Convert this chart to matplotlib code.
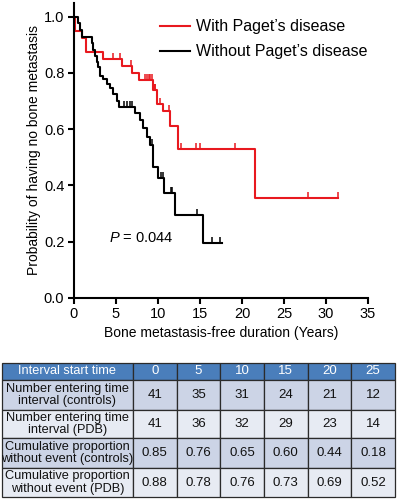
import numpy as np
import matplotlib
matplotlib.use('Agg')
import matplotlib.pyplot as plt
from matplotlib.path import Path

plt.rcParams['font.family'] = ['Liberation Sans', 'DejaVu Sans']
plt.rcParams['mathtext.fontset'] = 'custom'
plt.rcParams['mathtext.it'] = 'Liberation Sans:italic'
plt.rcParams['mathtext.rm'] = 'Liberation Sans'

# Kaplan-Meier steps, with Paget's disease (PDB)
pdb_time = [0, 0.1, 0.9, 1.4, 3.5, 5.7, 6.9, 7.7, 9.4, 9.85, 10.6, 11.4, 12.4, 21.5, 31.4]
pdb_surv = [1.0, 0.95, 0.925, 0.875, 0.85, 0.825, 0.80, 0.775, 0.74, 0.69, 0.665, 0.61, 0.528, 0.354, 0.354]
pdb_cens = [4.7, 5.5, 5.7, 6.8, 8.5, 8.7, 8.9, 9.1, 9.3, 9.5, 9.6, 9.7, 10.2, 11.3,
            12.7, 14.5, 15.0, 19.2, 27.9, 31.4]

# without Paget's disease (controls)
ctl_time = [0, 0.5, 0.7, 1.0, 2.1, 2.3, 2.5, 2.7, 2.9, 3.1, 3.5, 3.9, 4.3, 4.7, 5.1, 5.4,
            7.3, 7.9, 8.25, 8.7, 9.05, 9.45, 10.05, 10.7, 12.0, 15.4, 17.6]
ctl_surv = [1.0, 0.976, 0.952, 0.927, 0.905, 0.88, 0.86, 0.84, 0.82, 0.79, 0.78, 0.76, 0.745,
            0.725, 0.70, 0.68, 0.656, 0.632, 0.603, 0.573, 0.545, 0.466, 0.425, 0.371,
            0.294, 0.196, 0.196]
ctl_cens = [5.9, 6.3, 6.7, 6.9, 7.3, 9.1, 9.3, 10.3, 10.55, 11.5, 11.7, 14.6, 16.4, 17.4]

# table
col_labels = ['Interval start time', '0', '5', '10', '15', '20', '25']
row_labels = ['Number entering time\ninterval (controls)',
              'Number entering time\ninterval (PDB)',
              'Cumulative proportion\nwithout event (controls)',
              'Cumulative proportion\nwithout event (PDB)']
n_controls = ['41', '35', '31', '24', '21', '12']
n_pdb = ['41', '36', '32', '29', '23', '14']
prop_controls = ['0.85', '0.76', '0.65', '0.60', '0.44', '0.18']
prop_pdb = ['0.88', '0.78', '0.76', '0.73', '0.69', '0.52']


def surv_at(times, surv, t):
    idx = np.searchsorted(times, t, side='right') - 1
    return np.asarray(surv)[idx]


W, H = 398, 501
fig = plt.figure(figsize=(W / 100, H / 100), dpi=100)
ax = fig.add_axes([74 / W, 1 - 297.7 / H, 294 / W, 295 / H])

tick_up = Path([(0, 0), (0, 1)])

ax.step(pdb_time, pdb_surv, where='post', color='#e8191f', lw=1.5, label="With Paget\u2019s disease")
ax.plot(pdb_cens, surv_at(pdb_time, pdb_surv, pdb_cens), ls='none', marker=tick_up,
        ms=9, mew=1.1, color='#e8191f')
ax.step(ctl_time, ctl_surv, where='post', color='black', lw=1.5, label="Without Paget\u2019s disease")
ax.plot(ctl_cens, surv_at(ctl_time, ctl_surv, ctl_cens), ls='none', marker=tick_up,
        ms=9, mew=1.1, color='black')

ax.set_xlim(0, 35)
ax.set_ylim(0, 1.05)
ax.set_xticks(np.arange(0, 36, 5))
ax.set_yticks(np.arange(0, 1.01, 0.2))
ax.set_yticklabels(['0.0', '0.2', '0.4', '0.6', '0.8', '1.0'])
ax.spines['top'].set_visible(False)
ax.spines['right'].set_visible(False)
for s in ['left', 'bottom']:
    ax.spines[s].set_linewidth(1.5)
ax.tick_params(width=1.5, length=4, labelsize=10.5, pad=3)
ax.set_xlabel('Bone metastasis-free duration (Years)', fontsize=10, labelpad=3)
ax.set_ylabel('Probability of having no bone metastasis', fontsize=10, labelpad=2)

ax.legend(loc='upper left', bbox_to_anchor=(0.293, 0.944), frameon=False, fontsize=11.5,
          handlelength=1.9, handletextpad=0.35, labelspacing=0.64, borderpad=0, borderaxespad=0)

ax.text(4.2, 0.214, r'$P$ = 0.044', fontsize=10.5, va='center')

# table
tax = fig.add_axes([2 / W, 1 - 497 / H, 393 / W, 134 / H])
tax.axis('off')
cell_text = [n_controls, n_pdb, prop_controls, prop_pdb]
body = [[row_labels[i]] + cell_text[i] for i in range(4)]
hdr_col = '#4a7ebb'
row_cols = ['#ccd4e6', '#e7ebf3', '#ccd4e6', '#e7ebf3']
tbl = tax.table(cellText=body, colLabels=col_labels, cellLoc='center', bbox=[0, 0, 1, 1],
                colWidths=[131] + [43.7] * 6)
tbl.auto_set_font_size(False)
row_h = [17, 30, 28, 30, 29]
for (r, c), cell in tbl.get_celld().items():
    cell.set_height(row_h[r])
    cell.set_edgecolor('#2b2b2b')
    cell.set_linewidth(0.9)
    cell.get_text().set_fontsize(9.5 if c > 0 else 9.2)
    if r == 0:
        cell.set_facecolor(hdr_col)
        cell.get_text().set_color('white')
    else:
        cell.set_facecolor(row_cols[r - 1])
        cell.get_text().set_color('#111111')
        cell.get_text().set_linespacing(1.05)

fig.savefig('out.png', dpi=100)
